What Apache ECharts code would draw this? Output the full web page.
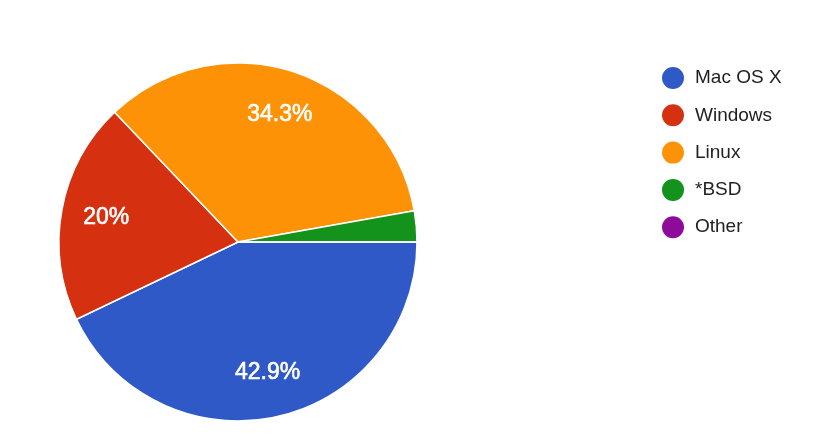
<!DOCTYPE html>
<html>
<head>
<meta charset="utf-8">
<script src="https://cdn.jsdelivr.net/npm/echarts@6/dist/echarts.min.js"></script>
<style>
html,body{margin:0;padding:0;background:#fff;}
#chart{width:826px;height:446px;}
</style>
</head>
<body>
<div id="chart"></div>
<script>
const categories = ['Mac OS X', 'Windows', 'Linux', '*BSD', 'Other'];
const shares = [42.9, 20, 34.3, 2.8, 0];
const colors = ['#3059C8', '#D5300F', '#FD9207', '#13921C', '#8E0A9A'];

const chart = echarts.init(document.getElementById('chart'), null, {renderer: 'canvas'});
const data = categories.map((c, i) => ({name: c, value: shares[i]}));
const fmt = p => (p.percent < 5 ? '' : Number(p.percent.toFixed(1)) + '%');

chart.setOption({
  animation: false,
  color: colors,
  legend: {
    orient: 'vertical',
    left: 655,
    top: 60,
    padding: 5,
    icon: 'circle',
    itemWidth: 24,
    itemHeight: 24,
    itemGap: 11.3,
    data: categories,
    textStyle: {fontFamily: 'Liberation Sans, Arial, sans-serif', fontSize: 19, color: '#222', padding: [0, 0, 0, 5]}
  },
  series: [
    {
      type: 'pie',
      center: [238, 242],
      radius: [0, 179],
      startAngle: 0,
      clockwise: true,
      avoidLabelOverlap: false,
      silent: true,
      data: data,
      itemStyle: {borderColor: '#fff', borderWidth: 1.5},
      label: {show: false},
      labelLine: {show: false}
    },
    {
      type: 'pie',
      center: [238, 242],
      radius: [0, 262],
      startAngle: 0,
      clockwise: true,
      silent: true,
      avoidLabelOverlap: false,
      data: data,
      itemStyle: {color: 'rgba(0,0,0,0)', borderWidth: 0},
      label: {
        show: true,
        position: 'inside',
        formatter: fmt,
        color: '#fff',
        fontSize: 23,
        fontWeight: 'normal',
        textBorderColor: '#fff',
        textBorderWidth: 0.6,
        fontFamily: 'Liberation Sans, Arial, sans-serif'
      },
      labelLine: {show: false}
    }
  ]
});
</script>
</body>
</html>
